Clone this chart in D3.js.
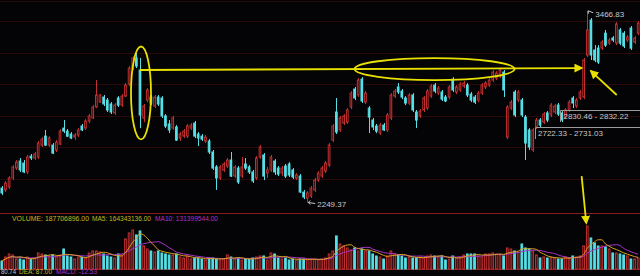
<!DOCTYPE html>
<html>
<head>
<meta charset="utf-8">
<script src="https://cdn.jsdelivr.net/npm/d3@7"></script>
<style>
  body { margin: 0; background: #000; }
  svg { display: block; }
</style>
</head>
<body>
<script>
// daily candles, [open, high, low, close]
const ohlc = [
  [2341,2354,2297,2310],[2329,2386,2316,2373],[2348,2417,2335,2405],[2405,2487,2392,2475],
  [2468,2519,2456,2506],[2513,2532,2443,2456],[2500,2519,2436,2443],[2443,2551,2430,2538],
  [2544,2557,2519,2532],[2532,2570,2519,2557],[2538,2640,2525,2627],[2614,2665,2602,2652],
  [2671,2710,2608,2614],[2614,2671,2602,2659],[2614,2627,2557,2563],[2583,2646,2570,2633],
  [2620,2716,2614,2703],[2722,2773,2690,2703],[2703,2716,2665,2671],[2684,2697,2652,2659],
  [2665,2690,2646,2678],[2678,2722,2665,2710],[2735,2748,2703,2710],[2722,2779,2710,2767],
  [2767,2811,2754,2799],[2786,2868,2779,2856],[2856,3027,2849,2932],[2887,2938,2881,2932],
  [2919,2932,2862,2875],[2900,2913,2824,2837],[2875,2887,2811,2824],[2818,2881,2805,2868],
  [2913,2925,2856,2868],[2868,2938,2856,2925],[2925,3008,2919,2995],[3002,3116,2989,3103],
  [3103,3179,3091,3167],[3167,3198,3103,3116],[3091,3167,2722,2805],[2786,2875,2760,2862],
  [2900,2976,2887,2964],[2919,2932,2868,2881],[2862,2932,2849,2919],[2919,2932,2862,2875],
  [2913,2925,2786,2799],[2799,2811,2722,2735],[2748,2773,2690,2710],[2722,2799,2710,2786],
  [2729,2741,2640,2646],[2659,2697,2640,2684],[2671,2716,2659,2703],[2671,2748,2659,2735],
  [2722,2754,2710,2741],[2754,2767,2659,2671],[2684,2697,2608,2659],[2671,2684,2640,2652],
  [2640,2678,2627,2665],[2640,2652,2557,2570],[2570,2583,2456,2468],[2475,2487,2329,2405],
  [2405,2487,2392,2475],[2456,2506,2443,2494],[2481,2532,2468,2519],[2519,2570,2411,2417],
  [2417,2487,2405,2475],[2468,2481,2367,2379],[2417,2538,2405,2475],[2494,2532,2456,2468],
  [2475,2487,2430,2443],[2443,2456,2373,2386],[2405,2544,2392,2532],[2538,2614,2525,2602],
  [2551,2563,2392,2417],[2436,2475,2405,2456],[2456,2551,2443,2538],[2513,2525,2424,2443],
  [2468,2481,2417,2430],[2436,2481,2417,2468],[2481,2494,2405,2417],[2494,2506,2411,2424],
  [2456,2468,2398,2411],[2405,2436,2392,2424],[2417,2430,2310,2316],[2316,2329,2271,2284],
  [2278,2322,2249.37,2310],[2290,2354,2278,2341],[2329,2405,2316,2392],[2392,2449,2379,2436],
  [2417,2481,2405,2468],[2449,2513,2436,2500],[2487,2627,2475,2614],[2646,2748,2633,2735],
  [2824,2913,2684,2697],[2710,2799,2697,2786],[2754,2811,2741,2799],[2760,2849,2748,2837],
  [2856,2957,2843,2944],[2970,2983,2900,2913],[2932,3040,2919,3027],[3033,3046,2881,2894],
  [2887,2957,2875,2944],[2849,2862,2690,2792],[2773,2786,2710,2729],[2735,2748,2690,2703],
  [2690,2754,2678,2741],[2741,2754,2703,2710],[2710,2818,2697,2805],[2786,2944,2773,2932],
  [2925,2970,2913,2957],[2983,3008,2938,2951],[2957,2970,2906,2919],[2913,2925,2868,2881],
  [2881,2944,2868,2932],[2932,2944,2824,2837],[2824,2837,2722,2773],[2799,2843,2786,2830],
  [2837,2925,2824,2913],[2849,2970,2837,2957],[2925,3002,2913,2989],[2995,3008,2944,2957],
  [2944,2989,2932,2976],[2951,2964,2894,2906],[2919,2932,2887,2894],[2919,2995,2906,2983],
  [3033,3046,2951,2964],[2951,2995,2938,2983],[2964,3014,2951,3002],[2989,3021,2976,3008],
  [2995,3008,2919,2932],[2938,2951,2887,2900],[2919,2932,2875,2887],[2900,2957,2887,2944],
  [2944,3008,2932,2995],[2983,3021,2970,3008],[2995,3040,2983,3027],[3027,3091,3014,3078],
  [3040,3084,3027,3071],[3052,3103,3040,3091],[3078,3091,2919,2964],[2665,2868,2652,2856],
  [2849,2900,2837,2887],[2951,2964,2792,2805],[2900,2964,2887,2951],[2900,2913,2792,2805],
  [2792,2805,2519,2627],[2710,2722,2583,2602],[2583,2722,2570,2710],[2729,2786,2716,2773],
  [2773,2786,2722.33,2741],[2760,2824,2748,2811],[2818,2830,2760,2773],[2805,2881,2792,2868],
  [2824,2875,2811,2862],[2868,2881,2799,2811],[2818,2830,2760,2773],[2792,2849,2779,2837],
  [2837,2900,2824,2887],[2913,2925,2849,2881],[2862,2913,2849,2900],[2913,2964,2900,2951],
  [2919,3167,2906,3154],[3186,3466.83,3173,3345],[3408,3421,3154,3186],[3218,3249,3141,3154],
  [3230,3249,3129,3141],[3230,3281,3218,3268],[3325,3345,3237,3249],[3262,3294,3249,3281],
  [3294,3306,3268,3281],[3262,3395,3249,3383],[3345,3357,3249,3262],[3325,3338,3230,3243],
  [3281,3313,3268,3300],[3357,3370,3218,3230],[3268,3306,3256,3294],[3325,3402,3313,3389]
]

// daily volume, millions of shares
const volume = [
  136,204,255,238,170,170,153,204,170,187,272,255,238,221,238,204,
  238,340,221,204,170,204,204,187,272,306,306,289,255,221,204,187,
  255,238,510,612,663,578,646,391,340,306,289,306,272,255,238,238,
  255,204,187,221,170,187,187,170,153,187,187,170,153,170,238,204,
  170,187,153,170,170,187,204,221,221,153,272,255,187,170,187,153,
  170,153,170,170,153,170,170,153,170,187,255,306,561,425,391,357,
  323,357,306,340,306,306,255,221,204,170,221,306,255,238,221,187,
  204,187,187,204,187,221,238,221,221,221,153,170,221,187,204,238,
  255,255,255,221,204,255,255,272,255,238,221,357,340,306,289,425,
  357,340,306,238,187,204,187,204,187,170,170,204,187,221,204,221,
  391,731,527,442,391,391,374,340,272,272,255,238,221,170,170,187
]

const priceGrid = [3400, 3200, 3000, 2800, 2600, 2400]
const priceHigh = 3466.83
const priceLow = 2249.37
const rangeLabels = [
  { text: '2830.46 - 2832.22', at: 154, price: 2830.46 },
  { text: '2722.33 - 2731.03', at: 147, price: 2722.33 }
]
const volumeLegend = [
  { text: 'VOLUME: 187706896.00', color: '#c8b820', x: 12, w: 77 },
  { text: 'MA5: 164343136.00', color: '#c8b820', x: 92, w: 59 },
  { text: 'MA10: 131399544.00', color: '#b030c8', x: 155, w: 63 }
]
const macdLegend = [
  { text: '80.74', color: '#c8c8c8', x: 1, w: 15 },
  { text: 'DEA: 87.00', color: '#c8b820', x: 19, w: 33 },
  { text: 'MACD: -12.53', color: '#b030c8', x: 56, w: 41 }
]

const measurements = { width: 640, height: 276 }
const RED = '#c23030'
const CYAN = '#56dfe6'
const YELLOW = '#e8e000'
const FONT = '"Liberation Sans", Arial, sans-serif'

const svg = d3.select('body').append('svg')
  .attr('width', measurements.width)
  .attr('height', measurements.height)
  .style('background', '#040406')

// scales
const x = d3.scaleBand()
  .domain(d3.range(ohlc.length))
  .range([0, measurements.width])
  .paddingInner(0.26)
  .paddingOuter(0.13)
const bw = x.bandwidth()
const cx = i => x(i) + bw / 2

const y = d3.scaleLinear().domain([priceLow, priceHigh]).range([202.5, 10.8])
const vy = d3.scaleLinear().domain([0, 900]).range([269, 216])

// arrow head for the yellow marks
svg.append('defs').append('marker')
  .attr('id', 'head')
  .attr('viewBox', '0 0 10 10')
  .attr('refX', 8).attr('refY', 5)
  .attr('markerWidth', 5).attr('markerHeight', 5)
  .attr('orient', 'auto')
  .append('path').attr('d', 'M0,0 L10,5 L0,10 z').attr('fill', YELLOW)

// faint grid in the price panel
svg.append('g').selectAll('line')
  .data(priceGrid)
  .enter().append('line')
  .attr('x1', 0).attr('x2', measurements.width)
  .attr('y1', d => Math.round(y(d)) + 0.5)
  .attr('y2', d => Math.round(y(d)) + 0.5)
  .attr('stroke', '#2c0909')

svg.append('line')
  .attr('x1', 0).attr('x2', measurements.width)
  .attr('y1', 1.5).attr('y2', 1.5)
  .attr('stroke', '#260808')

// panel separators
svg.append('g').selectAll('line')
  .data([213.5, 269.5])
  .enter().append('line')
  .attr('x1', 0).attr('x2', measurements.width)
  .attr('y1', d => d).attr('y2', d => d)
  .attr('stroke', '#8a1c1c')

// candles
const candles = svg.append('g')
  .selectAll('g')
  .data(ohlc)
  .enter().append('g')

candles.append('line')
  .attr('x1', (d, i) => Math.round(cx(i)) + 0.5)
  .attr('x2', (d, i) => Math.round(cx(i)) + 0.5)
  .attr('y1', d => y(d[1]))
  .attr('y2', d => y(d[2]))
  .attr('stroke', d => d[3] >= d[0] ? RED : CYAN)

candles.append('rect')
  .attr('x', (d, i) => x(i) + 0.5)
  .attr('width', bw - 1)
  .attr('y', d => y(Math.max(d[0], d[3])))
  .attr('height', d => Math.max(1, Math.abs(y(d[0]) - y(d[3]))))
  .attr('fill', d => d[3] >= d[0] ? '#1a0606' : CYAN)
  .attr('stroke', d => d[3] >= d[0] ? RED : CYAN)
  .attr('stroke-width', 1)

// volume bars
svg.append('g').selectAll('rect')
  .data(volume)
  .enter().append('rect')
  .attr('x', (d, i) => x(i) + 0.5)
  .attr('width', bw - 1)
  .attr('y', d => vy(d))
  .attr('height', d => vy(0) - vy(d))
  .attr('fill', (d, i) => ohlc[i][3] >= ohlc[i][0] ? '#1a0606' : CYAN)
  .attr('stroke', (d, i) => ohlc[i][3] >= ohlc[i][0] ? RED : CYAN)

// volume moving averages
function movingAverage(values, n) {
  return values.map((v, i) => d3.mean(values.slice(Math.max(0, i - n + 1), i + 1)))
}
const maLine = d3.line()
  .x((d, i) => cx(i))
  .y(d => vy(d))
  .curve(d3.curveMonotoneX)

svg.append('path')
  .datum(movingAverage(volume, 10))
  .attr('d', maLine)
  .attr('fill', 'none')
  .attr('stroke', '#a834c8')
  .attr('stroke-width', 1)

svg.append('path')
  .datum(movingAverage(volume, 5))
  .attr('d', maLine)
  .attr('fill', 'none')
  .attr('stroke', '#d8a020')
  .attr('stroke-width', 1)

// legends, squeezed into the widths seen on screen
function legend(items, baseline, size) {
  svg.append('g').selectAll('text')
    .data(items)
    .enter().append('text')
    .attr('x', d => d.x)
    .attr('y', baseline)
    .attr('fill', d => d.color)
    .attr('font-family', FONT)
    .attr('font-size', size)
    .attr('textLength', d => d.w)
    .attr('lengthAdjust', 'spacingAndGlyphs')
    .text(d => d.text)
}
legend(volumeLegend, 221, 7.5)
legend(macdLegend, 274, 6.5)

// high / low labels
const hiIdx = ohlc.findIndex(d => d[1] === priceHigh)
const loIdx = ohlc.findIndex(d => d[2] === priceLow)

svg.append('path')
  .attr('d', `M${cx(hiIdx) + 1},${y(priceHigh) + 3} L${cx(hiIdx) + 1},${y(priceHigh)} L${cx(hiIdx) + 6},${y(priceHigh) + 2}`)
  .attr('fill', 'none').attr('stroke', '#c8c8c8')
svg.append('text')
  .attr('x', cx(hiIdx) + 8).attr('y', y(priceHigh) + 6)
  .attr('fill', '#c8c8c8').attr('font-family', FONT).attr('font-size', 8)
  .text(priceHigh.toFixed(2))

svg.append('path')
  .attr('d', `M${cx(loIdx) + 1},${y(priceLow)} L${cx(loIdx) + 8},${y(priceLow) + 1} M${cx(loIdx) + 1},${y(priceLow)} l2,-2 M${cx(loIdx) + 1},${y(priceLow)} l2,2`)
  .attr('fill', 'none').attr('stroke', '#c8c8c8')
svg.append('text')
  .attr('x', cx(loIdx) + 10).attr('y', y(priceLow) + 4)
  .attr('fill', '#c8c8c8').attr('font-family', FONT).attr('font-size', 8)
  .text(priceLow.toFixed(2))

// range boxes
const boxes = svg.append('g').selectAll('g')
  .data(rangeLabels)
  .enter().append('g')
boxes.append('path')
  .attr('d', d => `M${measurements.width},${Math.round(y(d.price)) - 0.5} H${Math.round(x(d.at)) + 0.5} V${y(d.price) + 11}`)
  .attr('fill', 'none')
  .attr('stroke', '#9a9a9a')
boxes.append('text')
  .attr('x', d => x(d.at) + 3)
  .attr('y', d => y(d.price) + 8)
  .attr('fill', '#c8c8c8')
  .attr('font-family', FONT)
  .attr('font-size', 8)
  .text(d => d.text)

// yellow hand-drawn annotations
const ann = svg.append('g')
  .attr('fill', 'none')
  .attr('stroke', YELLOW)
  .attr('stroke-width', 1.8)

const peak = 38
ann.append('ellipse')
  .attr('cx', cx(peak) + 1)
  .attr('cy', (y(3240) + y(2650)) / 2)
  .attr('rx', 10)
  .attr('ry', (y(2650) - y(3240)) / 2)

ann.append('line')
  .attr('x1', cx(peak)).attr('y1', y(ohlc[peak][0]))
  .attr('x2', cx(160) - 2).attr('y2', y(3103))
  .attr('marker-end', 'url(#head)')

ann.append('ellipse')
  .attr('cx', (cx(97) + cx(141)) / 2)
  .attr('cy', y(3097))
  .attr('rx', (cx(141) - cx(97)) / 2)
  .attr('ry', 11)

ann.append('line')
  .attr('x1', cx(168) + 4).attr('y1', y(2932))
  .attr('x2', cx(162)).attr('y2', y(3084))
  .attr('marker-end', 'url(#head)')

ann.append('line')
  .attr('x1', cx(160) - 2).attr('y1', y(2417))
  .attr('x2', cx(161) - 1).attr('y2', vy(730) - 3)
  .attr('marker-end', 'url(#head)')
</script>
</body>
</html>
